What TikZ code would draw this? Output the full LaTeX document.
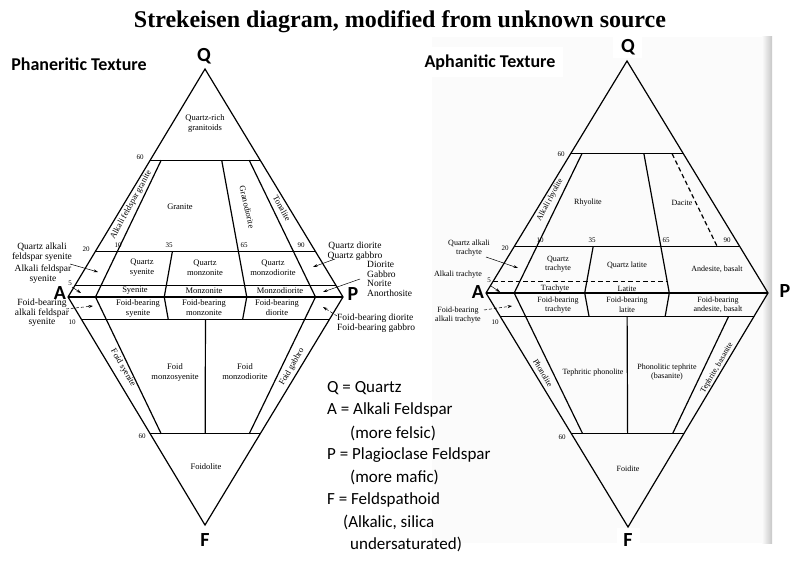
\documentclass[tikz,border=0pt]{standalone}
\usepackage{fontspec}
\setmainfont{Liberation Serif}
\newfontfamily\calib{Carlito}
\usetikzlibrary{calc,arrows.meta}
\tikzset{
  edge/.style={line width=1.2pt},
  dedge/.style={line width=1.2pt, dash pattern=on 4.5pt off 3pt},
  lbl/.style={font=\fontsize{8.5}{10}\selectfont, align=center, inner sep=0pt},
  rlbl/.style={font=\fontsize{8}{9.5}\selectfont, align=center, inner sep=0pt},
  num/.style={font=\fontsize{7}{8}\selectfont, inner sep=0pt},
  ext/.style={font=\fontsize{9.5}{10}\selectfont, align=center, inner sep=0pt},
  vtx/.style={font=\calib\bfseries\fontsize{20}{20}\selectfont, inner sep=0pt},
  ttl/.style={font=\calib\bfseries\fontsize{18}{18}\selectfont, inner sep=0pt},
  leg/.style={font=\calib\fontsize{17}{17}\selectfont, inner sep=0pt, anchor=west},
  ptr/.style={line width=0.5pt, -{Stealth[length=4.5pt,width=3pt]}},
  dptr/.style={ptr, dash pattern=on 3pt off 2pt},
}
\begin{document}
\begin{tikzpicture}[x=1pt,y=-1pt]
\useasboundingbox (0,0) rectangle (800,564);
% scanned background of right diagram
\fill[black!1.5] (432,37) rectangle (772,543);
\shade[left color=black!1.5,right color=black!22] (762,37) rectangle (772,543);
\fill[white] (420,47) rectangle (563,77);
\fill[white] (613,37) rectangle (642,58);
\fill[white] (617,528) rectangle (640,546);

% title
\node[font=\bfseries\fontsize{24}{24}\selectfont, inner sep=0pt] (title) at (400,22) {Strekeisen diagram, modified from unknown source};
\node[ttl] (phan) at (79,64) {Phaneritic Texture};
\node[ttl] (aphan) at (490,63) {Aphanitic Texture};

% vertices
\coordinate (LA) at (68,297);
\coordinate (LP) at (343,297);
\coordinate (LQ) at (205,69);
\coordinate (LF) at (205,525);
\coordinate (RA) at (486,293);
\coordinate (RP) at (768,293);
\coordinate (RQ) at (627,61);
\coordinate (RF) at (628,527);
\foreach \s in {L,R} {
  \foreach \r in {0,10,35,50,65,90,100} {
    \coordinate (\s B\r) at ($(\s A)!\r/100!(\s P)$);
    \foreach \h in {0,5,10,20,60} {
      \coordinate (\s q\r-\h) at ($(\s B\r)!\h/100!(\s Q)$);
      \coordinate (\s f\r-\h) at ($(\s B\r)!\h/100!(\s F)$);
    }
  }
}

% ---------------- left diagram ----------------
\draw[edge] (LA) -- (LQ) -- (LP) -- (LF) -- cycle;
\draw[edge] (Lq0-60) -- (Lq100-60);
\draw[edge] (Lq0-20) -- (Lq100-20);
\draw[edge] (Lq0-5) -- (Lq100-5);
\draw[edge] (LA) -- (LP);
\draw[edge] (Lf0-10) -- (Lf100-10);
\draw[edge] (Lf0-60) -- (Lf100-60);
\draw[edge] (Lq10-60) -- (LB10) -- (Lf10-60);
\draw[edge] (Lq35-20) -- (LB35) -- (Lf35-10);
\draw[edge] (Lq65-60) -- (LB65) -- (Lf65-10);
\draw[edge] (Lq90-60) -- (LB90) -- (Lf90-60);
\draw[edge] (Lf50-10) -- (Lf50-60);

\node[vtx] (lQ) at (204,56) {Q};
\node[vtx] (lA) at (60,293) {A};
\node[vtx] (lP) at (353,294) {P};
\node[vtx] (lF) at (205,540) {F};

\node[lbl] (qrg) at (205,123) {Quartz-rich\\granitoids};
\node[lbl, rotate=61] (afg) at (131,205) {Alkali feldspar granite};
\node[lbl] (gra) at (180,207) {Granite};
\node[lbl, rotate=-77] (grd) at (247,207) {Granodiorite};
\node[lbl, rotate=-61] (ton) at (282,208) {Tonalite};
\node[lbl] (qsy) at (142,268) {Quartz\\syenite};
\node[lbl] (qmz) at (205,268) {Quartz\\monzonite};
\node[lbl] (qmd) at (273,268) {Quartz\\monzodiorite};
\node[lbl] (sye) at (135,291) {Syenite};
\node[lbl] (mzn) at (204,291) {Monzonite};
\node[lbl] (mzd) at (280,291) {Monzodiorite};
\node[lbl] (fbs) at (138,308) {Foid-bearing\\syenite};
\node[lbl] (fbm) at (204,308) {Foid-bearing\\monzonite};
\node[lbl] (fbd) at (277,308) {Foid-bearing\\diorite};
\node[lbl, rotate=-60] (fsy) at (123,368) {Foid syenite};
\node[lbl] (fms) at (175,372) {Foid\\monzosyenite};
\node[lbl] (fmd) at (245,372) {Foid\\monzodiorite};
\node[lbl, rotate=60] (fgb) at (292,367) {Foid gabbro};
\node[lbl] (fdl) at (206,467) {Foidolite};

\node[num] (ln60) at (140,157) {60};
\node[num] (ln20) at (86,249) {20};
\node[num] (ln5) at (70,283) {5};
\node[num] (ln10) at (72,322) {10};
\node[num] (lnf60) at (142,436) {60};
\node[num] (lt10) at (118,245) {10};
\node[num] (lt35) at (169,245) {35};
\node[num] (lt65) at (244,245) {65};
\node[num] (lt90) at (301,245) {90};

\node[ext] (qafs) at (42,252) {Quartz alkali\\feldspar syenite};
\node[ext] (afs) at (43,274) {Alkali feldspar\\syenite};
\node[ext, font=\fontsize{9.5}{9.6}\selectfont] (fbafs) at (42,313) {Foid-bearing\\alkali feldspar\\syenite};
\node[ext] (qdqg) at (355,251) {Quartz diorite\\Quartz gabbro};
\node[ext, align=left, anchor=west, font=\fontsize{9.5}{9.4}\selectfont] (dgna) at (367,279) {Diorite\\Gabbro\\Norite\\Anorthosite};
\node[ext, align=left, anchor=west] (fbdg) at (337,323) {Foid-bearing diorite\\Foid-bearing gabbro};

\coordinate (a1s) at (70,264); \coordinate (a1e) at (98,272);
\coordinate (a2s) at (72,287); \coordinate (a2e) at (81,293);
\coordinate (a3s) at (66,309); \coordinate (a3e) at (93,306);
\coordinate (a4s) at (335,259); \coordinate (a4e) at (313,267);
\coordinate (a5s) at (360,279); \coordinate (a5e) at (323,292);
\coordinate (a6s) at (337,316); \coordinate (a6e) at (323,307);
\draw[ptr] (a1s) -- (a1e);
\draw[ptr] (a2s) -- (a2e);
\draw[dptr] (a3s) -- (a3e);
\draw[ptr] (a4s) -- (a4e);
\draw[ptr] (a5s) -- (a5e);
\draw[dptr] (a6s) -- (a6e);

% ---------------- right diagram ----------------
\draw[edge] (RA) -- (RQ) -- (RP) -- (RF) -- cycle;
\draw[edge] (Rq0-60) -- (Rq100-60);
\draw[edge] (Rq0-20) -- (Rq100-20);
\draw[dedge] (Rq0-5) -- (Rq65-5);
\draw[edge] (RA) -- (RP);
\draw[edge] (Rf0-10) -- (Rf100-10);
\draw[edge] (Rf0-60) -- (Rf100-60);
\draw[edge] (Rq10-60) -- (RB10) -- (Rf10-60);
\draw[edge] (Rq35-20) -- (RB35) -- (Rf35-10);
\draw[edge] (Rq65-60) -- (RB65) -- (Rf65-10);
\draw[dedge] (Rq90-60) -- (Rq90-20);
\draw[edge] (Rf90-10) -- (Rf90-60);
\draw[edge] (Rf50-10) -- (Rf50-60);

\node[vtx] (rQ) at (628,47) {Q};
\node[vtx] (rA) at (478,292) {A};
\node[vtx] (rP) at (785,291) {P};
\node[vtx] (rF) at (628,540) {F};

\node[rlbl, rotate=62] (arh) at (550,200) {Alkali rhyolite};
\node[rlbl] (rhy) at (588,203) {Rhyolite};
\node[rlbl] (dac) at (682,203) {Dacite};
\node[rlbl] (qtr) at (558,264) {Quartz\\trachyte};
\node[rlbl] (qla) at (627,265) {Quartz latite};
\node[rlbl] (anb) at (717,269) {Andesite, basalt};
\node[rlbl] (tra) at (555,289) {Trachyte};
\node[rlbl] (lat) at (627,289) {Latite};
\node[rlbl] (fbt) at (558,305) {Foid-bearing\\trachyte};
\node[rlbl] (fbl) at (627,305) {Foid-bearing\\latite};
\node[rlbl] (fba) at (718,305) {Foid-bearing\\andesite, basalt};
\node[rlbl, rotate=-60] (pho) at (543,373) {Phonolite};
\node[rlbl] (tph) at (593,373) {Tephritic phonolite};
\node[rlbl] (pte) at (667,372) {Phonolitic tephrite\\(basanite)};
\node[rlbl, rotate=60] (teb) at (717,368) {Tephrite, basanite};
\node[rlbl] (fdt) at (628,469) {Foidite};

\node[num] (rn60) at (561,154) {60};
\node[num] (rn20) at (505,248) {20};
\node[num] (rn5) at (489,280) {5};
\node[num] (rn10) at (495,322) {10};
\node[num] (rnf60) at (562,437) {60};
\node[num] (rt10) at (540,240) {10};
\node[num] (rt35) at (592,240) {35};
\node[num] (rt65) at (666,240) {65};
\node[num] (rt90) at (727,240) {90};

\node[rlbl] (qat) at (469,248) {Quartz alkali\\trachyte};
\node[rlbl] (alt) at (458,275) {Alkali trachyte};
\node[rlbl] (fbat) at (458,315) {Foid-bearing\\alkali trachyte};

\coordinate (b1s) at (486,257); \coordinate (b1e) at (518,268);
\coordinate (b2s) at (491,286); \coordinate (b2e) at (500,292);
\coordinate (b3s) at (484,310); \coordinate (b3e) at (512,306);
\draw[ptr] (b1s) -- (b1e);
\draw[ptr] (b2s) -- (b2e);
\draw[dptr] (b3s) -- (b3e);

% ---------------- legend ----------------
\node[leg] (lg1) at (327,388) {Q = Quartz};
\node[leg] (lg2) at (327,410) {A = Alkali Feldspar};
\node[leg] (lg3) at (350,433) {(more felsic)};
\node[leg] (lg4) at (327,455) {P = Plagioclase Feldspar};
\node[leg] (lg5) at (350,477) {(more mafic)};
\node[leg] (lg6) at (327,500) {F = Feldspathoid};
\node[leg] (lg7) at (343,522) {(Alkalic, silica};
\node[leg] (lg8) at (350,544) {undersaturated)};
\end{tikzpicture}
\end{document}
